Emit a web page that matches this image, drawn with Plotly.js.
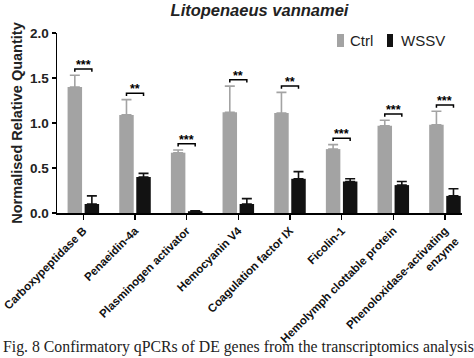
<!DOCTYPE html>
<html><head><meta charset="utf-8">
<script src="https://cdn.plot.ly/plotly-3.0.1.min.js"></script>
<style>html,body{margin:0;padding:0;background:#fff;}#chart{width:474px;height:358px;}</style>
</head><body><div id="chart"></div>
<script>
const genes = ["Carboxypeptidase B","Penaeidin-4a","Plasminogen activator","Hemocyanin V4","Coagulation factor IX","Ficolin-1","Hemolymph clottable protein","Phenoloxidase-activating<br>enzyme"];
const ctrl    = [1.40, 1.09, 0.67, 1.12, 1.11, 0.71, 0.97, 0.98];
const ctrlErr = [0.13, 0.17, 0.03, 0.29, 0.23, 0.05, 0.06, 0.15];
const wssv    = [0.10, 0.40, 0.02, 0.10, 0.38, 0.35, 0.31, 0.19];
const wssvErr = [0.09, 0.04, 0.005, 0.06, 0.08, 0.03, 0.04, 0.08];
const sig     = ["***","**","***","**","**","***","***","***"];
const yTicks  = [0, 0.5, 1.0, 1.5, 2.0];
const yTickText = ["0.0","0.5","1.0","1.5","2.0"];

const GRAY = "#a3a3a3", BLACK = "#121212";
const FONT = "Liberation Sans, Arial, sans-serif";
const idx = genes.map((_, i) => i);
const zeros = genes.map(() => 0);

const traces = [
  {type:"bar", name:"Ctrl", x: idx, y: ctrl, marker:{color:GRAY},
   error_y:{type:"data", symmetric:false, array: ctrlErr, arrayminus: zeros, color:GRAY, thickness:1.6, width:5}},
  {type:"bar", name:"WSSV", x: idx, y: wssv, marker:{color:BLACK},
   error_y:{type:"data", symmetric:false, array: wssvErr, arrayminus: zeros, color:BLACK, thickness:1.6, width:5}}
];

const shapes = [];
const annotations = [];
const half = 0.165;
idx.forEach(i => {
  const top = Math.max(ctrl[i] + ctrlErr[i], wssv[i] + wssvErr[i]);
  const yb = top + 0.07;
  const x0 = i - half, x1 = i + half;
  shapes.push({type:"path", xref:"x", yref:"y",
    path:`M${x0},${yb-0.03} L${x0},${yb} L${x1},${yb} L${x1},${yb-0.03}`,
    line:{color:"#000", width:1.5}});
  annotations.push({x:i, y:yb, xref:"x", yref:"y", text:"<b>"+sig[i]+"</b>", showarrow:false,
    yanchor:"bottom", yshift:-5, font:{family:FONT, size:12.5, color:"#000"}});
});

// legend (custom)
const P = (px) => (px - 57) / 405;
const Q = (py) => (213 - py) / 180;
shapes.push({type:"rect", xref:"paper", yref:"paper", x0:P(337), x1:P(344), y0:Q(47), y1:Q(34), fillcolor:GRAY, line:{width:0}});
shapes.push({type:"rect", xref:"paper", yref:"paper", x0:P(387), x1:P(393), y0:Q(47), y1:Q(34), fillcolor:BLACK, line:{width:0}});
annotations.push({xref:"paper", yref:"paper", x:P(348), y:Q(41), xanchor:"left", yanchor:"middle", text:"Ctrl", showarrow:false, font:{family:FONT, size:15, color:"#222"}});
annotations.push({xref:"paper", yref:"paper", x:P(399), y:Q(41), xanchor:"left", yanchor:"middle", text:"WSSV", showarrow:false, font:{family:FONT, size:15, color:"#222"}});
// caption
annotations.push({xref:"paper", yref:"paper", x:P(1), y:Q(358), xanchor:"left", yanchor:"bottom", showarrow:false,
  text:"Fig. 8 Confirmatory qPCRs of DE genes from the transcriptomics analysis",
  font:{family:"Liberation Serif, DejaVu Serif, serif", size:15.8, color:"#222"}});

const layout = {
  width:474, height:358,
  margin:{l:57, r:12, t:33, b:145},
  paper_bgcolor:"#fff", plot_bgcolor:"#fff",
  showlegend:false,
  barmode:"group", bargap:0.34, bargroupgap:0.15,
  title:{text:"<b><i>Litopenaeus vannamei</i></b>", x:0.5, xref:"paper", y:0.972, yanchor:"middle", font:{family:FONT, size:16.5, color:"#222"}},
  xaxis:{range:[-0.51, 7.33], tickmode:"array", tickvals: idx, ticktext: genes.map(g=>"<b>"+g+"</b>"),
    tickangle:-45, ticks:"outside", ticklen:5, tickwidth:1.5, tickcolor:"#000",
    showline:true, linecolor:"#000", linewidth:1.5, showgrid:false, zeroline:false,
    tickfont:{family:FONT, size:11.5, color:"#111"}},
  yaxis:{range:[0, 2.0], tickmode:"array", tickvals:yTicks, ticktext:yTickText.map(t=>"<b>"+t+"</b>"),
    ticks:"outside", ticklen:4, tickwidth:1.5, tickcolor:"#000",
    showline:true, linecolor:"#000", linewidth:1.5, showgrid:false, zeroline:false,
    tickfont:{family:FONT, size:13.5, color:"#222"},
    title:{text:"<b>Normalised Relative Quantity</b>", standoff:4, font:{family:FONT, size:14.5, color:"#222"}}},
  shapes, annotations
};
Plotly.newPlot("chart", traces, layout, {staticPlot:true, displayModeBar:false});
</script></body></html>
